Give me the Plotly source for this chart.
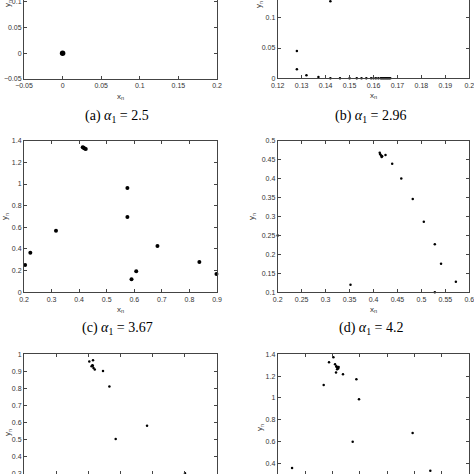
import plotly.graph_objects as go

# (a) alpha_1 = 2.5 : fixed point
a_x = [0.0]
a_y = [0.0]

# (b) alpha_1 = 2.96
b_x = [0.142, 0.128, 0.128, 0.132, 0.137, 0.142, 0.146, 0.150, 0.153, 0.155,
       0.157, 0.159, 0.160, 0.161, 0.162, 0.163, 0.1635, 0.164, 0.1645, 0.165,
       0.1655, 0.166, 0.1665, 0.167]
b_y = [0.127, 0.045, 0.015, 0.005, 0.002, 0.0, 0.0, 0.0, 0.0, 0.0,
       0.0, 0.0, 0.0, 0.0, 0.0, 0.0, 0.0, 0.0, 0.0, 0.0,
       0.0, 0.0, 0.0, 0.0]

# (c) alpha_1 = 3.67
c_x = [0.413, 0.416, 0.420, 0.424, 0.575, 0.575, 0.316, 0.223, 0.204, 0.684,
       0.836, 0.898, 0.607, 0.590]
c_y = [1.340, 1.335, 1.328, 1.323, 0.963, 0.695, 0.569, 0.366, 0.252, 0.428,
       0.280, 0.169, 0.194, 0.120]

# (d) alpha_1 = 4.2
d_x = [0.413, 0.414, 0.416, 0.418, 0.417, 0.425, 0.439, 0.458, 0.482, 0.505,
       0.528, 0.541, 0.572, 0.528, 0.352, 0.200]
d_y = [0.468, 0.464, 0.461, 0.459, 0.457, 0.462, 0.439, 0.400, 0.346, 0.286,
       0.227, 0.175, 0.128, 0.100, 0.120, 0.250]

# (e) bottom-left panel
e_x = [0.406, 0.429, 0.420, 0.428, 0.432, 0.440, 0.425, 0.491, 0.531, 0.570,
       0.765, 1.001]
e_y = [0.957, 0.965, 0.930, 0.933, 0.920, 0.910, 0.936, 0.902, 0.810, 0.502,
       0.580, 0.300]

# (f) bottom-right panel
f_x = [0.407, 0.375, 0.419, 0.430, 0.436, 0.442, 0.434, 0.445, 0.428, 0.426,
       0.477, 0.336, 0.575, 0.594, 0.548, 0.986, 0.105, 1.115]
f_y = [1.372, 1.326, 1.308, 1.285, 1.278, 1.270, 1.262, 1.283, 1.290, 1.232,
       1.216, 1.118, 1.170, 0.987, 0.598, 0.677, 0.356, 0.331]

captions = ["(a) <i>α</i><sub>1</sub> = 2.5", "(b) <i>α</i><sub>1</sub> = 2.96",
            "(c) <i>α</i><sub>1</sub> = 3.67", "(d) <i>α</i><sub>1</sub> = 4.2"]

W = 474
LEFT_X = [24 / W, 217 / W]
RIGHT_X = [277.7 / W, 469.3 / W]


def ydom(top_px, bottom_px):
    return [max(0.0, 1 - bottom_px / W), min(1.0, 1 - top_px / W)]


fig = go.Figure()

# x, y, marker size, x domain, y domain, x range, x step, y range, y step, row
panels = [
    (a_x, a_y, 5.5, LEFT_X, ydom(0, 79), [-0.05, 0.2], 0.05, [-0.05, 0.1033], 0.05, "top"),
    (b_x, b_y, 2.5, RIGHT_X, ydom(0, 78.3), [0.12, 0.2], 0.01, [0, 0.1292], 0.05, "top"),
    (c_x, c_y, 4, LEFT_X, ydom(140.7, 292.3), [0.2, 0.9], 0.1, [0, 1.4], 0.2, "mid"),
    (d_x, d_y, 2.5, RIGHT_X, ydom(140.7, 292.3), [0.2, 0.6], 0.05, [0.1, 0.5], 0.05, "mid"),
    (e_x, e_y, 2.5, LEFT_X, ydom(354.3, 474), [0, 1.2], 0.2, [0.296, 1.0], 0.1, "bot"),
    (f_x, f_y, 2.5, RIGHT_X, ydom(354.3, 474), [0, 1.4], 0.2, [0.302, 1.4], 0.2, "bot"),
]

axis_font = dict(family="Liberation Sans, Arial", size=7, color="#333333")
label_font = dict(family="Liberation Sans, Arial", size=8, color="#333333")
layout = dict(
    template="none",
    width=W, height=W,
    margin=dict(l=0, r=0, t=0, b=0, autoexpand=False),
    paper_bgcolor="white", plot_bgcolor="white",
    showlegend=False,
)

for i, (xs, ys, msize, xd, yd, xr, dx, yr, dy, row) in enumerate(panels):
    n = "" if i == 0 else str(i + 1)
    fig.add_trace(go.Scatter(
        x=xs, y=ys, mode="markers", cliponaxis=False,
        marker=dict(color="black", size=msize, line=dict(width=0)),
        xaxis="x" + n, yaxis="y" + n,
    ))
    common = dict(
        showgrid=False, zeroline=False, showline=True, linecolor="#444444",
        linewidth=1, ticks="inside", ticklen=3, tickcolor="#444444",
        tickfont=axis_font, automargin=False, ticklabeloverflow="allow",
    )
    layout["xaxis" + n] = dict(
        common, domain=xd, range=xr, dtick=dx, tick0=xr[0], anchor="y" + n,
        mirror="ticks" if row != "top" else False,
        showticklabels=row != "bot",
        title=dict(text="x<sub>n</sub>" if row != "bot" else "", font=label_font, standoff=4),
    )
    layout["yaxis" + n] = dict(
        common, domain=yd, range=yr, dtick=dy, tick0=0, anchor="x" + n,
        mirror="ticks",
        title=dict(text="y<sub>n</sub>" if row == "mid" else "", font=label_font, standoff=5),
    )

fig.update_layout(**layout)

# y labels of the cropped panels sit where the full-height axis would centre them
for lx, ly in [(8, 3), (259, 5), (8, 432), (260, 428)]:
    fig.add_annotation(
        text="y<sub>n</sub>", x=lx / W, y=1 - ly / W, xref="paper", yref="paper",
        showarrow=False, textangle=-90, font=label_font,
        xanchor="center", yanchor="middle",
    )

cap_pos = [(117, 117), (371, 117), (117, 328), (371, 328)]
for txt, (cx, cy) in zip(captions, cap_pos):
    fig.add_annotation(
        text=txt, x=cx / W, y=1 - cy / W, xref="paper", yref="paper",
        showarrow=False, xanchor="center", yanchor="middle",
        font=dict(family="Liberation Serif, DejaVu Serif", size=14, color="black"),
    )

# drop the default page margin so the figure sits at the window's corner
fig.write_html("out.html", config={"displayModeBar": False},
               post_script="document.body.style.margin = '0';")
